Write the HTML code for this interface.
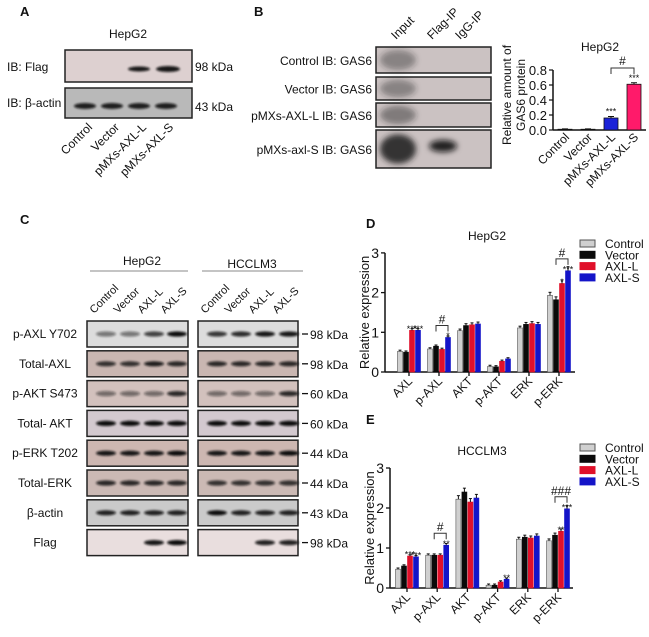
<!DOCTYPE html>
<html><head><meta charset="utf-8">
<style>
html,body{margin:0;padding:0;background:#fff;}
svg{display:block;font-family:"Liberation Sans",sans-serif;}
</style></head>
<body>
<svg id="fig" width="649" height="637" viewBox="0 0 649 637" xmlns="http://www.w3.org/2000/svg">
<defs>
<filter id="blur1" x="-20%" y="-50%" width="140%" height="200%"><feGaussianBlur stdDeviation="1.1"/></filter>
<filter id="blur3" x="-30%" y="-80%" width="160%" height="260%"><feGaussianBlur stdDeviation="3"/></filter>
</defs>
<g id="root"></g>
</svg>
<script>
// ---- Panel B chart data ----
const bCats = ["Control","Vector","pMXs-AXL-L","pMXs-AXL-S"];
const bVals = [0.01, 0.01, 0.16, 0.61];
const bErr = [0.005, 0.005, 0.02, 0.02];
const bTicks = [0, 0.2, 0.4, 0.6, 0.8];
const bSig = ["", "", "***", "***"];

// ---- Panel D/E data ----
const groups = ["AXL","p-AXL","AKT","p-AKT","ERK","p-ERK"];
const seriesNames = ["Control","Vector","AXL-L","AXL-S"];
const dControl = [0.52, 0.58, 1.04, 0.14, 1.11, 1.93];
const dVector  = [0.50, 0.65, 1.17, 0.13, 1.20, 1.82];
const dAxlL    = [1.05, 0.57, 1.19, 0.27, 1.22, 2.23];
const dAxlS    = [1.05, 0.87, 1.21, 0.33, 1.20, 2.55];
const eControl = [0.47, 0.82, 2.22, 0.07, 1.22, 1.18];
const eVector  = [0.55, 0.82, 2.40, 0.07, 1.27, 1.32];
const eAxlL    = [0.80, 0.82, 2.15, 0.15, 1.25, 1.42];
const eAxlS    = [0.78, 1.07, 2.25, 0.22, 1.30, 1.98];
const yTicks = [0, 1, 2, 3];
const dSigL = ["***","","","","","*"];
const dSigS = ["***","*","","","","***"];
const eSigL = ["***","","","","","**"];
const eSigS = ["***","**","","**","","***"];

const NS="http://www.w3.org/2000/svg";
const root=document.getElementById('root');
function mk(tag,attrs,parent,text){const e=document.createElementNS(NS,tag);for(const k in attrs)e.setAttribute(k,attrs[k]);if(text!==undefined)e.textContent=text;(parent||root).appendChild(e);return e;}
function txt(x,y,s,size,parent,extra){const a={x:x,y:y,'font-size':size,fill:'#111'};Object.assign(a,extra||{});return mk('text',a,parent,s);}

// ---- panel letters ----
[["A",20,16],["B",254,16],["C",20,224],["D",366,228],["E",366,424]].forEach(p=>{
  const t=txt(p[1],p[2],p[0],13,root,{'font-weight':'bold'});
  
  
});

// ---- blot helper ----
function blot(g,x,y,w,h,bg,bands){
  mk('rect',{x:x,y:y,width:w,height:h,fill:bg,stroke:'#222','stroke-width':1.5},g);
  bands.forEach(b=>{ if(b.a<=0)return;
    mk('ellipse',{cx:b.cx,cy:b.cy,rx:b.rx,ry:b.ry,fill:'#111','fill-opacity':b.a,filter:'url(#blur1)'},g);});
}

// ---- Panel A ----
const gA=mk('g',{});


txt(128,38,"HepG2",12,gA,{'text-anchor':'middle'});
const aLanes=[85,112,139,166];
blot(gA,65,50,127,32,'#ddd0d0',[{cx:139,cy:69,rx:11,ry:2.5,a:0.95},{cx:168,cy:69,rx:12,ry:3,a:0.95}]);
blot(gA,65,88,127,30,'#b9b9b9',aLanes.map(c=>({cx:c,cy:106,rx:11,ry:3,a:0.9})));
txt(7,71,"IB: Flag",12,gA);
txt(7,107,"IB: β-actin",12,gA);
txt(195,71,"98 kDa",12,gA);
txt(195,111,"43 kDa",12,gA);
["Control","Vector","pMXs-AXL-L","pMXs-AXL-S"].forEach((s,i)=>{
  txt(aLanes[i]+8,128,s,12,gA,{'text-anchor':'end',transform:`rotate(-45 ${aLanes[i]+8} 128)`});
});

// ---- Panel B blot ----
const gB=mk('g',{});


["Input","Flag-IP","IgG-IP"].forEach((s,i)=>{const x=[396,432,460][i];
  txt(x,40,s,12,gB,{transform:`rotate(-45 ${x} 40)`});});
const bRows=[[47,26,"Control IB: GAS6",0.45],[77,23,"Vector IB: GAS6",0.45],[103,24,"pMXs-AXL-L IB: GAS6",0.5],[130,38,"pMXs-axl-S IB: GAS6",1]];
bRows.forEach((r,i)=>{
  mk('rect',{x:376,y:r[0],width:115,height:r[1],fill:'#cbc2c2',stroke:'#222','stroke-width':1.5},gB);
  mk('ellipse',{cx:398,cy:r[0]+r[1]/2,rx:18,ry:r[1]/2.6,fill:'#222','fill-opacity':r[3]*0.9,filter:'url(#blur3)'},gB);
  if(i===3) mk('ellipse',{cx:443,cy:r[0]+r[1]/2-3,rx:14,ry:6,fill:'#111','fill-opacity':0.9,filter:'url(#blur3)'},gB);
  txt(372,r[0]+r[1]/2+5,r[2],12,gB,{'text-anchor':'end'});
});

// ---- Panel B chart ----
const gBc=mk('g',{});


const bx0=553,by0=130,bScale=75,bStep=23,bFirst=565;
const bY=v=>by0-v*bScale;
txt(600,51,"HepG2",12,gBc,{'text-anchor':'middle'});
mk('line',{x1:bx0,y1:bY(0.8),x2:bx0,y2:by0,stroke:'#111','stroke-width':1.5},gBc);
mk('line',{x1:bx0,y1:by0,x2:646,y2:by0,stroke:'#111','stroke-width':1.5},gBc);
bTicks.forEach(t=>{mk('line',{x1:bx0-4,y1:bY(t),x2:bx0,y2:bY(t),stroke:'#111','stroke-width':1.2},gBc);
  txt(bx0-6,bY(t)+5,t.toFixed(1),13,gBc,{'text-anchor':'end'});});
const bColors=['#111','#111','#1a22d8','#ff1a6a'];
bVals.forEach((v,i)=>{const cx=bFirst+i*bStep;
  const r=mk('rect',{x:cx-7,y:bY(v),width:14,height:Math.max(by0-bY(v),0.8),fill:bColors[i],stroke:'#111','stroke-width':0.8},gBc);
  
  
  mk('line',{x1:cx,y1:bY(v+bErr[i]),x2:cx,y2:bY(v),stroke:'#111'},gBc);
  mk('line',{x1:cx-3,y1:bY(v+bErr[i]),x2:cx+3,y2:bY(v+bErr[i]),stroke:'#111'},gBc);
  if(bSig[i])txt(cx,bY(v+bErr[i])-2,bSig[i],9,gBc,{'text-anchor':'middle'});
  txt(cx+5,by0+8,bCats[i],12,gBc,{'text-anchor':'end',transform:`rotate(-45 ${cx+5} ${by0+8})`});
});
{const x1=bFirst+2*bStep,x2=bFirst+3*bStep,yb=bY(0.8)-2;
 mk('path',{d:`M${x1} ${yb+6}V${yb}H${x2}V${yb+6}`,fill:'none',stroke:'#333'},gBc);
 txt((x1+x2)/2,yb-3,"#",12,gBc,{'text-anchor':'middle'});}
txt(0,0,"Relative amount of",12,gBc,{'text-anchor':'middle',transform:'translate(511 95) rotate(-90)'});
txt(0,0,"GAS6 protein",12,gBc,{'text-anchor':'middle',transform:'translate(525 95) rotate(-90)'});

// ---- Panel C blots ----
const gC=mk('g',{});


txt(142,265,"HepG2",12,gC,{'text-anchor':'middle'});
txt(252,268,"HCCLM3",12,gC,{'text-anchor':'middle'});
mk('line',{x1:90,y1:271,x2:188,y2:271,stroke:'#888'},gC);
mk('line',{x1:202,y1:271,x2:303,y2:271,stroke:'#888'},gC);
const laneL=[100,124,148,171], laneR=[211,235,259,283];
["Control","Vector","AXL-L","AXL-S"].forEach((s,i)=>{
  [laneL[i],laneR[i]].forEach(x=>txt(x-6,314,s,11,gC,{'text-anchor':'start',transform:`rotate(-45 ${x-6} 314)`}));
});
const cRows=[
 ["p-AXL Y702","98 kDa",'#dcdcdc',[0.5,0.5,0.75,1],[0.8,0.85,0.95,0.95]],
 ["Total-AXL","98 kDa",'#c9b6b1',[0.8,0.8,0.9,0.85],[0.85,0.85,0.85,0.85]],
 ["p-AKT S473","60 kDa",'#d2c1bd',[0.5,0.5,0.5,0.85],[0.5,0.5,0.5,0.85]],
 ["Total- AKT","60 kDa",'#d3c9cf',[1,1,1,1],[1,1,1,1]],
 ["p-ERK T202","44 kDa",'#cdb7b1',[0.95,0.95,0.95,1],[0.95,0.95,0.95,1]],
 ["Total-ERK","44 kDa",'#cbb9b4',[0.85,0.85,0.85,0.85],[0.8,0.8,0.8,0.8]],
 ["β-actin","43 kDa",'#cacaca',[0.9,0.9,0.9,0.9],[1,0.9,0.9,0.9]],
 ["Flag","98 kDa",'#e9dede',[0,0,0.95,1],[0,0,0.9,0.9]]
];
cRows.forEach((r,i)=>{const y=321+i*29.8,h=26,cy=y+h/2;
  blot(gC,87,y,101,h,r[2],laneL.map((c,j)=>({cx:c+6,cy:cy,rx:10,ry:2.6,a:r[3][j]})));
  blot(gC,198,y,100,h,r[2],laneR.map((c,j)=>({cx:c+6,cy:cy,rx:10,ry:2.6,a:r[4][j]})));
  txt(45,cy+4,r[0],12,gC,{'text-anchor':'middle'});
  mk('line',{x1:302,y1:cy,x2:308,y2:cy,stroke:'#111','stroke-width':1.3},gC);
  txt(310,cy+5,r[1],12,gC);
});

// ---- grouped bar charts ----
const sColors=['#d0d0d0','#0a0a0a','#e0102a','#1414c8'];
function grouped(cfg){
  const g=mk('g',{});
  
  
  const Y=v=>cfg.y0-v*cfg.unit;
  const X=i=>cfg.firstX+i*cfg.step;
  txt(cfg.titleX,cfg.titleY,cfg.title,12,g,{'text-anchor':'middle'});
  mk('line',{x1:cfg.ax,y1:Y(3),x2:cfg.ax,y2:cfg.y0,stroke:'#111','stroke-width':1.5},g);
  mk('line',{x1:cfg.ax,y1:cfg.y0,x2:cfg.axEnd,y2:cfg.y0,stroke:'#111','stroke-width':1.5},g);
  yTicks.forEach(t=>{mk('line',{x1:cfg.ax-4,y1:Y(t),x2:cfg.ax,y2:Y(t),stroke:'#111','stroke-width':1.3},g);
    txt(cfg.ax-6,Y(t)+5,String(t),14,g,{'text-anchor':'end'});});
  txt(0,0,"Relative  expression",13,g,{'text-anchor':'middle',transform:`translate(${cfg.ax-16} ${Y(1.5)}) rotate(-90)`});
  const offs=[-9,-3,3,9];
  groups.forEach((gn,i)=>{
    mk('line',{x1:X(i),y1:cfg.y0,x2:X(i),y2:cfg.y0+4,stroke:'#111','stroke-width':1.3},g);
    txt(X(i)+4,cfg.y0+10,gn,12,g,{'text-anchor':'end',transform:`rotate(-45 ${X(i)+4} ${cfg.y0+10})`});
    cfg.series.forEach((arr,s)=>{const v=arr[i],cx=X(i)+offs[s];
      const r=mk('rect',{x:cx-2.5,y:Y(v),width:5,height:cfg.y0-Y(v),fill:sColors[s],stroke:s===0?'#555':sColors[s],'stroke-width':0.6},g);
      
      
      const e=Math.max(0.03,v*0.04);
      mk('line',{x1:cx,y1:Y(v+e),x2:cx,y2:Y(v),stroke:'#111','stroke-width':1},g);
      mk('line',{x1:cx-1.5,y1:Y(v+e),x2:cx+1.5,y2:Y(v+e),stroke:'#111','stroke-width':1},g);
    });
    [[cfg.sigL,2],[cfg.sigS,3]].forEach(([sig,s])=>{ if(!sig[i])return;
      const v=cfg.series[s][i];const cx=X(i)+offs[s];
      txt(cx,Y(v+0.06)+4,sig[i],9,g,{'text-anchor':'middle'});});
  });
  cfg.hash.forEach(([gi,lab])=>{const x1=X(gi)+offs[1],x2=X(gi)+offs[3];
    const top=Math.max(cfg.series[1][gi],cfg.series[3][gi])+0.3;const yb=Y(top);
    mk('path',{d:`M${x1} ${yb+6}V${yb}H${x2}V${yb+6}`,fill:'none',stroke:'#333'},g);
    txt((x1+x2)/2,yb-2,lab,12,g,{'text-anchor':'middle'});});
  seriesNames.forEach((s,k)=>{const ly=cfg.legY+k*11.3;
    const lr=mk('rect',{x:580,y:ly,width:15,height:7,fill:sColors[k],stroke:k===0?'#555':sColors[k]},g);
    
    
    txt(605,ly+8,s,12,g);});
}
grouped({name:'panel-d-chart',title:'HepG2',titleX:487,titleY:240,ax:385,axEnd:575,y0:372,unit:39.7,firstX:409,step:30,
  series:[dControl,dVector,dAxlL,dAxlS],sigL:dSigL,sigS:dSigS,hash:[[1,'#'],[5,'#']],legY:240});
grouped({name:'panel-e-chart',title:'HCCLM3',titleX:482,titleY:455,ax:390,axEnd:573,y0:588,unit:40,firstX:407,step:30.2,
  series:[eControl,eVector,eAxlL,eAxlS],sigL:eSigL,sigS:eSigS,hash:[[1,'#'],[5,'###']],legY:444});
</script>
</body></html>
